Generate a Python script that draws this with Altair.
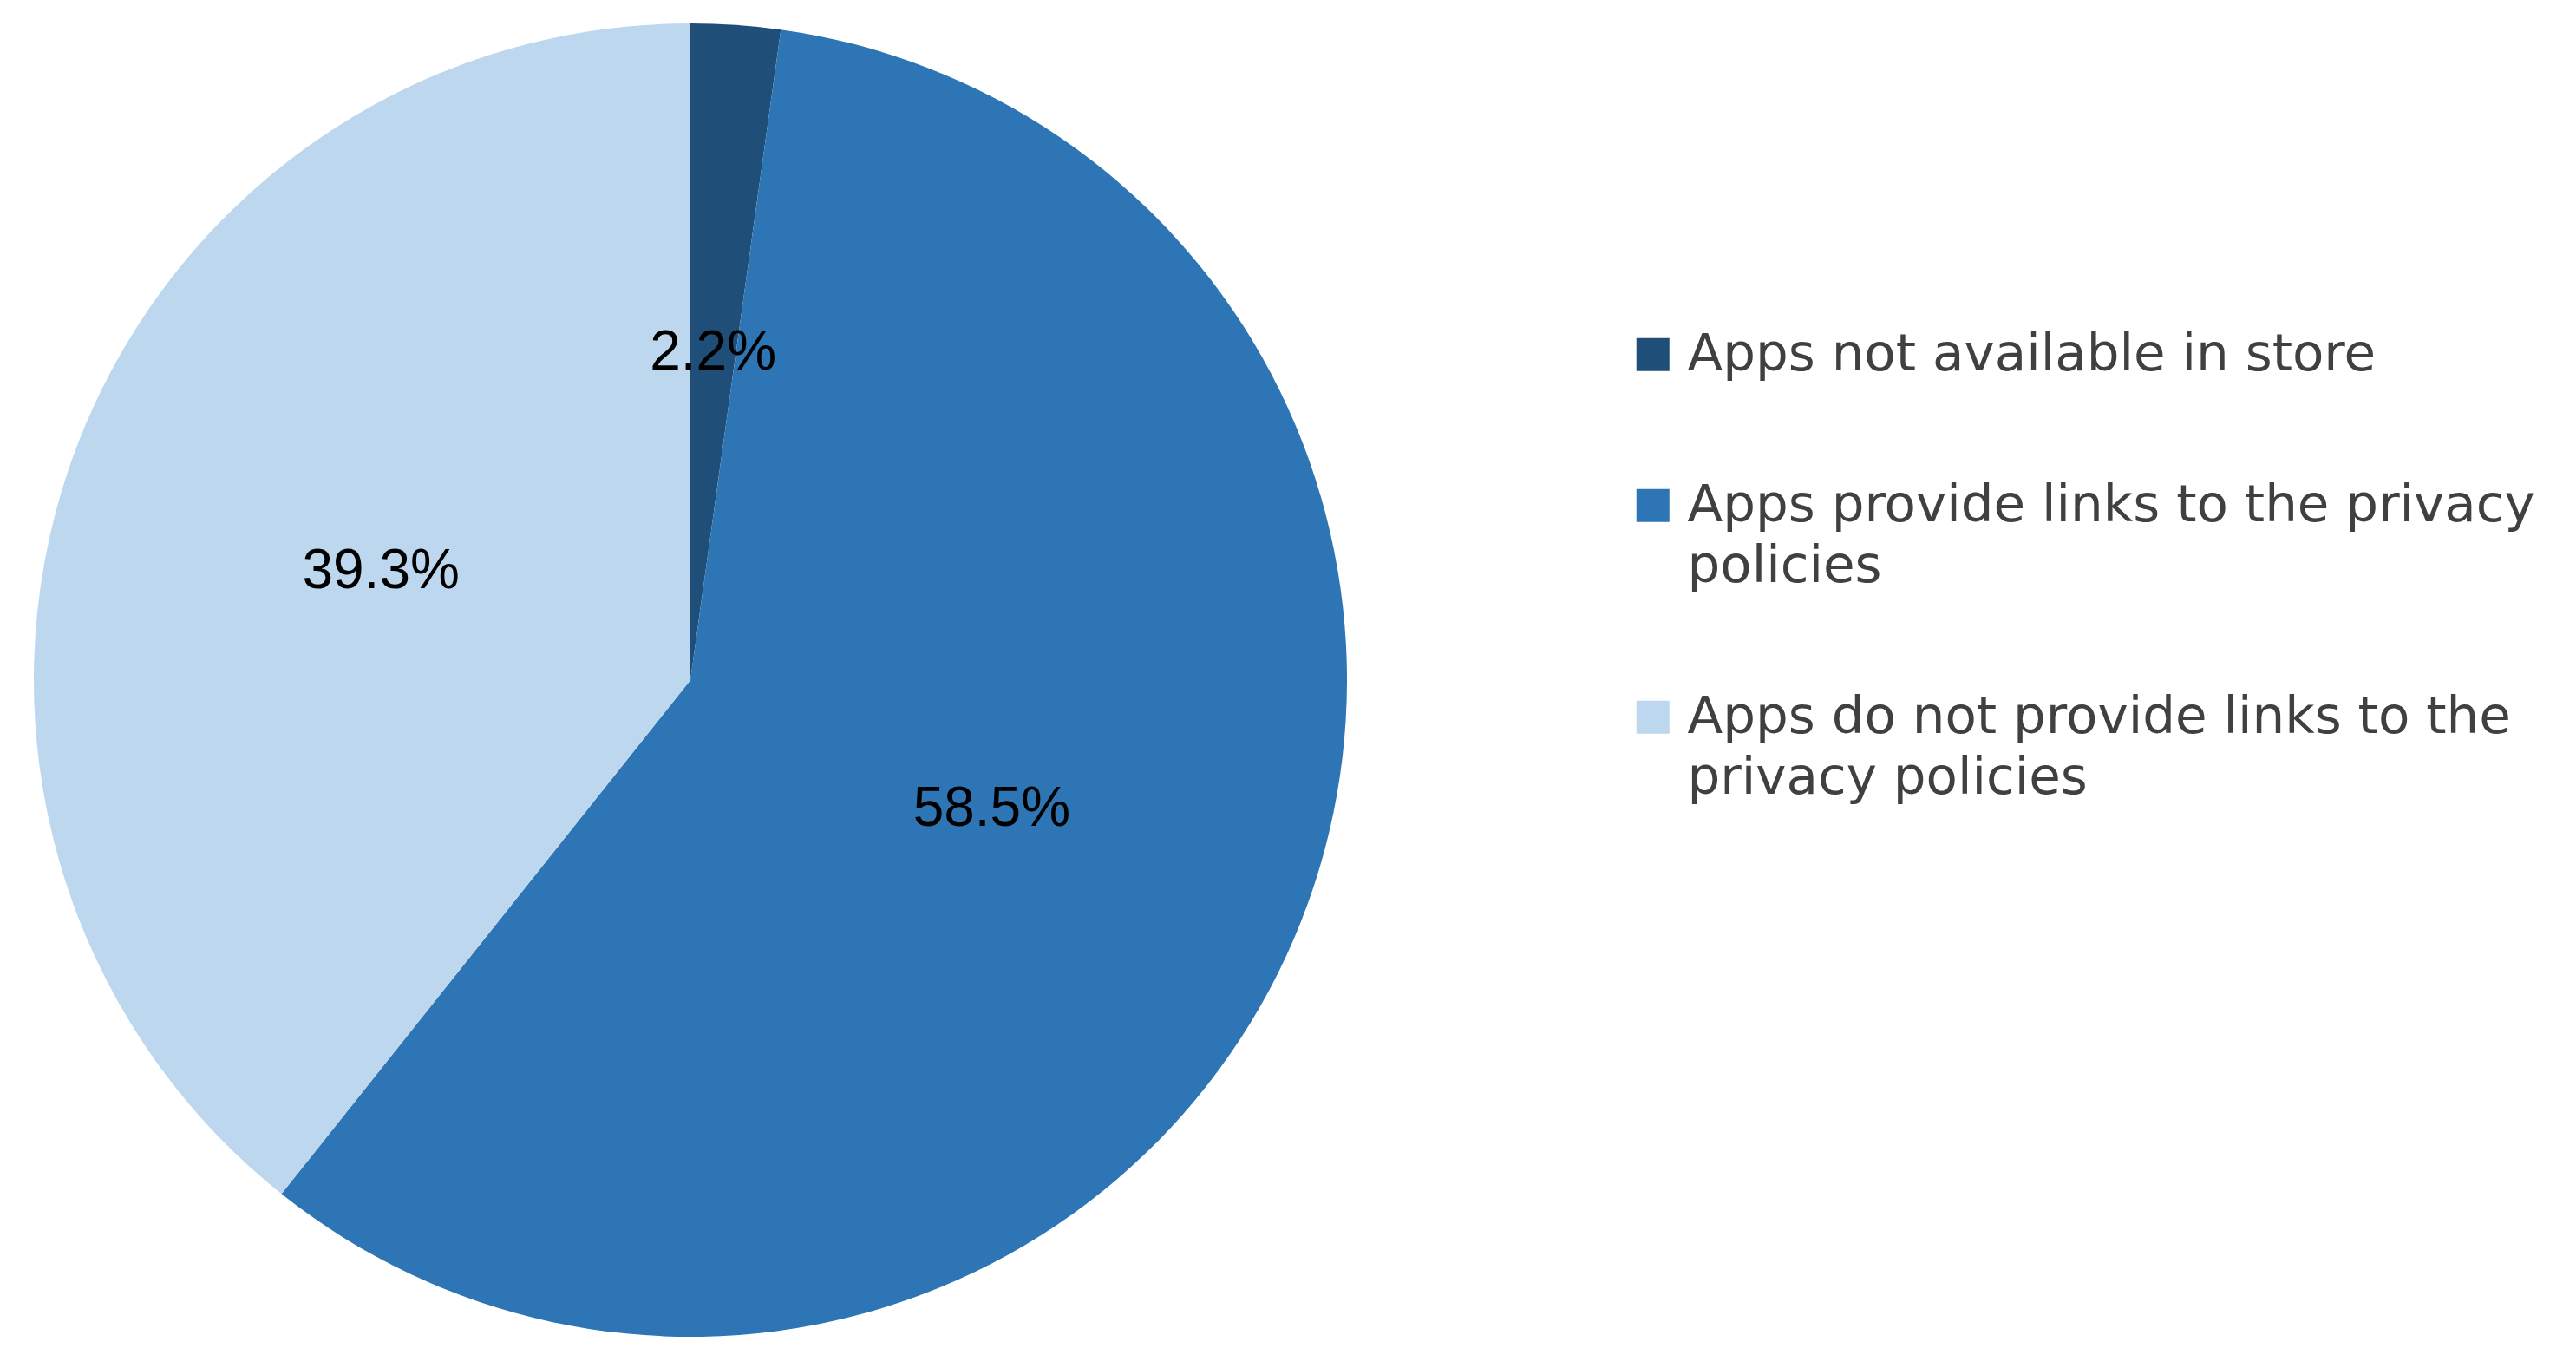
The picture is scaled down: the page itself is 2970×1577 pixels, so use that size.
import altair as alt
import pandas as pd

categories = [
    "Apps not available in store",
    "Apps provide links to the privacy policies",
    "Apps do not provide links to the privacy policies",
]
label_lines = [
    ["Apps not available in store"],
    ["Apps provide links to the privacy", "policies"],
    ["Apps do not provide links to the", "privacy policies"],
]
values = [2.2, 58.5, 39.3]
colors = ["#1F4E79", "#2E75B6", "#BDD7EE"]

df = pd.DataFrame({
    "category": categories,
    "value": values,
    "order": list(range(len(categories))),
    "label": [f"{v:.1f}%" for v in values],
})

label_expr = " : ".join(
    [f"datum.label == '{c}' ? {lines!r}" for c, lines in zip(categories, label_lines)]
) + " : datum.label"

base = alt.Chart(df).encode(
    theta=alt.Theta("value:Q", stack=True),
    order=alt.Order("order:Q"),
)

arc = base.mark_arc(radius=757, strokeWidth=0).encode(
    color=alt.Color(
        "category:N",
        sort=categories,
        scale=alt.Scale(domain=categories, range=colors),
        legend=alt.Legend(
            title=None,
            orient="none",
            legendX=1868,
            legendY=371,
            symbolType="square",
            symbolSize=1444,
            symbolStrokeWidth=0,
            labelFont="DejaVu Sans",
            labelFontSize=59.5,
            labelColor="#404040",
            labelLimit=2000,
            labelOffset=10,
            labelBaseline="middle",
            rowPadding=113,
            padding=0,
            labelExpr=label_expr,
        ),
    )
)

text = base.mark_text(
    radius=378,
    font="Liberation Sans",
    fontSize=64,
    color="#000000",
    baseline="middle",
    align="center",
).encode(text="label:N")

chart = (arc + text).properties(
    width=1576,
    height=1552,
    padding=0,
).configure_view(stroke=None).configure(
    style={"guide-label": {"lineHeight": 70}}
)

chart.save("out.html", embed_options={"renderer": "svg", "actions": False})
